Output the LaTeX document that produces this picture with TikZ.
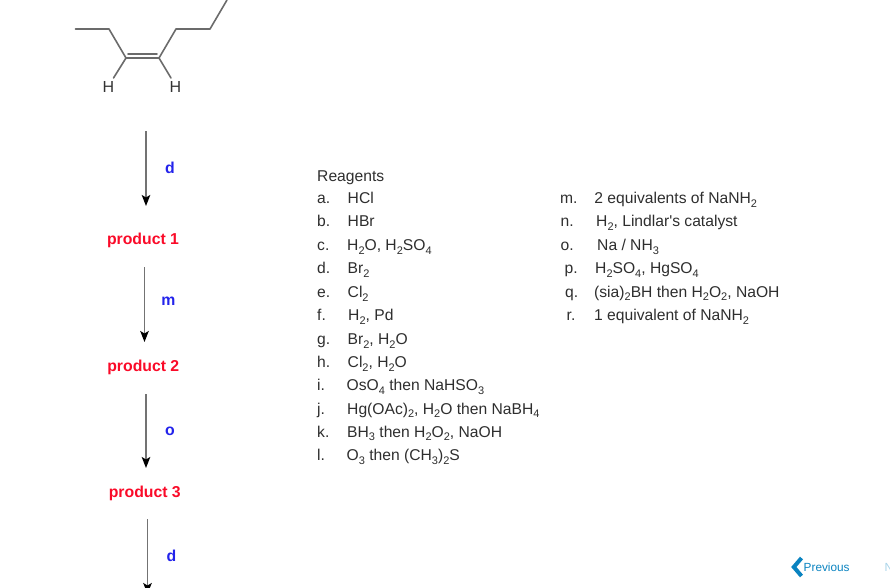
\documentclass[tikz,border=0pt]{standalone}
\usepackage{fontspec}
\setmainfont{Liberation Sans}
\newfontfamily\plainf{Liberation Sans}
\usetikzlibrary{arrows.meta}
\newcommand\lowr[1]{\raisebox{-3.6pt}{\fontsize{11}{11}\selectfont #1}}
\definecolor{prodred}{RGB}{250,10,40}
\definecolor{letblue}{RGB}{35,35,235}
\definecolor{navblue}{RGB}{10,131,192}
\tikzset{
  x=1pt,y=-1pt,
  bond/.style={draw=black!58,line width=1.6pt,line cap=round,line join=round},
  rx/.style={draw=black!55,line width=1.7pt,-{Stealth[length=11pt,width=8.5pt,inset=2.5pt,black]}},
  rtxt/.style={anchor=base west,inner sep=0pt,text=black!82,font=\fontsize{15.65}{18}\selectfont},
  prod/.style={inner sep=0pt,text=prodred,font=\bfseries\fontsize{15.8}{18}\selectfont},
  lett/.style={inner sep=0pt,text=letblue,font=\bfseries\fontsize{15.8}{18}\selectfont},
  atom/.style={inner sep=0pt,text=black!80,font=\fontsize{16}{18}\selectfont},
}
\begin{document}
\begin{tikzpicture}
\useasboundingbox (0,0) rectangle (890,587);
\clip (0,0) rectangle (890,587);
% molecule
\coordinate (c1) at (75.5,29);
\coordinate (c2) at (109,29);
\coordinate (c3) at (126,58);
\coordinate (c4) at (159,58);
\coordinate (c5) at (176,29);
\coordinate (c6) at (210,29);
\coordinate (c7) at (227,0);
\coordinate (d1) at (128,54);
\coordinate (d2) at (157,54);
\node[atom] (h1) at (108.5,87) {H};
\node[atom] (h2) at (175.5,87) {H};
\coordinate (h1e) at (113.5,78);
\coordinate (h2e) at (171,78);
\draw[bond] (c1)--(c2)--(c3)--(c4)--(c5)--(c6)--(c7);
\draw[bond] (d1)--(d2);
\draw[bond] (c3)--(h1e);
\draw[bond] (c4)--(h2e);
% reaction sequence
\node[prod] (p1) at (143,240.3) {product 1};
\node[prod] (p2) at (143.3,367) {product 2};
\node[prod] (p3) at (144.8,493.3) {product 3};
\coordinate (a1s) at (146,131); \coordinate (a1e) at (146,206);
\coordinate (a2s) at (144.5,267); \coordinate (a2e) at (144.5,342);
\coordinate (a3s) at (146,394); \coordinate (a3e) at (146,468);
\coordinate (a4s) at (147.5,519); \coordinate (a4e) at (147.5,594);
\draw[rx] (a1s)--(a1e);
\draw[rx] (a2s)--(a2e);
\draw[rx] (a3s)--(a3e);
\draw[rx] (a4s)--(a4e);
\node[lett] (l1) at (170,167.5) {d};
\node[lett] (l2) at (168.5,301) {m};
\node[lett] (l3) at (170,431) {o};
\node[lett] (l4) at (171.5,555.5) {d};
% reagents, left column
\node[rtxt] (rh) at (317,181) {Reagents};
\node[rtxt] (la) at (317,203.7) {a.};  \node[rtxt] (ta) at (347.5,203.7) {HCl};
\node[rtxt] (lb) at (317,226.7) {b.};  \node[rtxt] (tb) at (347.5,226.7) {HBr};
\node[rtxt] (lc) at (317,250.7) {c.};  \node[rtxt] (tc) at (347,250.7) {H\lowr{2}O, H\lowr{2}SO\lowr{4}};
\node[rtxt] (ld) at (317,273.7) {d.};  \node[rtxt] (td) at (347.5,273.7) {Br\lowr{2}};
\node[rtxt] (le) at (317,297.7) {e.};  \node[rtxt] (te) at (347.5,297.7) {Cl\lowr{2}};
\node[rtxt] (lf) at (317,320.7) {f.};  \node[rtxt] (tf) at (348,320.7) {H\lowr{2}, Pd};
\node[rtxt] (lg) at (317,344.7) {g.};  \node[rtxt] (tg) at (347.5,344.7) {Br\lowr{2}, H\lowr{2}O};
\node[rtxt] (lh) at (317,367.7) {h.};  \node[rtxt] (th) at (347.5,367.7) {Cl\lowr{2}, H\lowr{2}O};
\node[rtxt] (li) at (317,390.7) {i.};  \node[rtxt] (ti) at (346.5,390.7) {OsO\lowr{4} then NaHSO\lowr{3}};
\node[rtxt] (lj) at (317,414.2) {j.};  \node[rtxt] (tj) at (347,414.2) {Hg(OAc)\lowr{2}, H\lowr{2}O then NaBH\lowr{4}};
\node[rtxt] (lk) at (317,437.2) {k.};  \node[rtxt] (tk) at (347,437.2) {BH\lowr{3} then H\lowr{2}O\lowr{2}, NaOH};
\node[rtxt] (ll) at (317,460.7) {l.};  \node[rtxt] (tl) at (346.5,460.7) {O\lowr{3} then (CH\lowr{3})\lowr{2}S};
% reagents, right column
\node[rtxt] (lm) at (560,203.7) {m.};  \node[rtxt] (tm) at (594.2,203.7) {2 equivalents of NaNH\lowr{2}};
\node[rtxt] (ln) at (560.5,226.7) {n.};  \node[rtxt] (tn) at (596,226.7) {H\lowr{2}, Lindlar{\plainf'}s catalyst};
\node[rtxt] (lo) at (560.5,250.7) {o.};  \node[rtxt] (to) at (597,250.7) {Na / NH\lowr{3}};
\node[rtxt] (lp) at (564.5,273.7) {p.};  \node[rtxt] (tp) at (595,273.7) {H\lowr{2}SO\lowr{4}, HgSO\lowr{4}};
\node[rtxt] (lq) at (565,297.2) {q.};  \node[rtxt] (tq) at (594,297.2) {(sia)\lowr{2}BH then H\lowr{2}O\lowr{2}, NaOH};
\node[rtxt] (lr) at (566.5,320.7) {r.};  \node[rtxt] (tr) at (594,320.7) {1 equivalent of NaNH\lowr{2}};
% navigation
\draw[draw=navblue,line width=4pt] (801.5,558)--(793.8,567)--(801.5,576);
\node[anchor=base west,inner sep=0pt,text=navblue,font=\fontsize{11.8}{14}\selectfont] (prev) at (803.5,571) {Previous};
\node[anchor=base west,inner sep=0pt,text=navblue!35,font=\fontsize{11.8}{14}\selectfont] (next) at (884.5,571) {N};
\end{tikzpicture}
\end{document}
